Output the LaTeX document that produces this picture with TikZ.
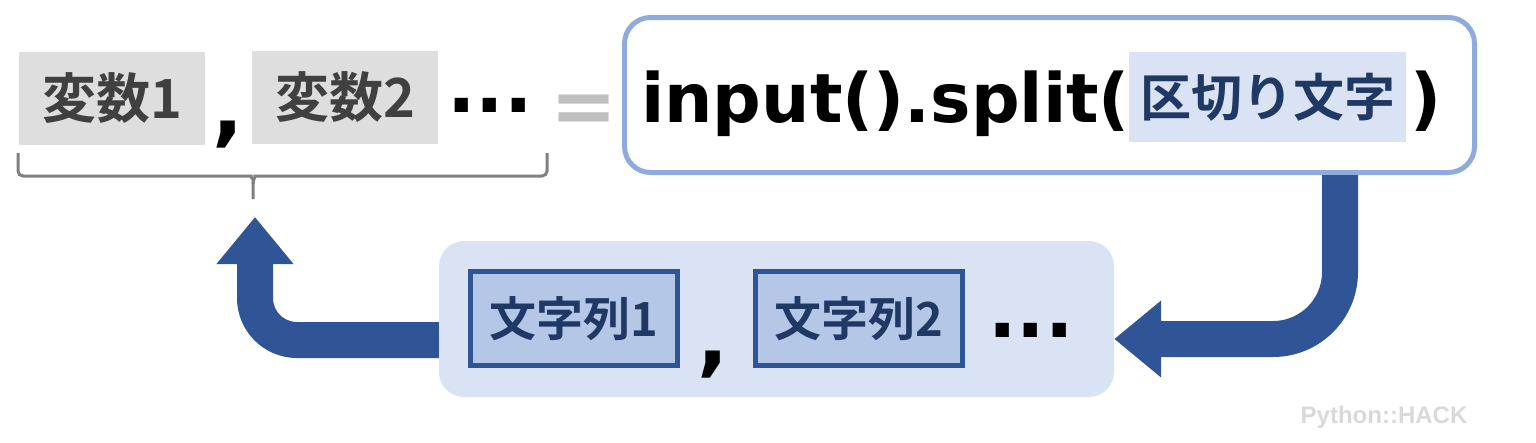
\documentclass[tikz,border=0pt]{standalone}
\usepackage{fontspec}
\usepackage{tikz}
\usetikzlibrary{calc,positioning,arrows.meta}
\newfontfamily\jp{Noto Sans CJK JP}[BoldFont={Noto Sans CJK JP Bold}]
\newfontfamily\lat{DejaVu Sans}[BoldFont={DejaVu Sans Bold}]
\newfontfamily\wmfont{Liberation Sans}[BoldFont={Liberation Sans Bold}]
\definecolor{varfill}{HTML}{DEDEDE}
\definecolor{vartext}{HTML}{404040}
\definecolor{bracecol}{HTML}{7F7F7F}
\definecolor{eqcol}{HTML}{BFBFBF}
\definecolor{splitline}{HTML}{8FAADC}
\definecolor{paleblue}{HTML}{DAE3F3}
\definecolor{navy}{HTML}{203864}
\definecolor{arrowblue}{HTML}{2F5597}
\definecolor{strfill}{HTML}{B4C7E7}
\definecolor{wmcol}{HTML}{D9D9D9}

\begin{document}
\begin{tikzpicture}[x=1pt,y=-1pt,
  varbox/.style={fill=varfill,text=vartext,minimum width=186pt,minimum height=93pt,inner sep=0pt,
    font=\jp\bfseries\fontsize{54}{54}\selectfont},
  bigtext/.style={inner sep=0pt,anchor=base,font=\lat\bfseries\fontsize{75}{75}\selectfont},
  strbox/.style={draw=arrowblue,line width=5pt,fill=strfill,text=navy,minimum width=207pt,minimum height=94pt,
    inner sep=0pt,font=\jp\bfseries\fontsize{47}{47}\selectfont},
  bigarrow/.style={draw=arrowblue,line width=36pt,-{Triangle[length=47pt,width=74pt]}},
  bracket/.style={draw=bracecol,line width=3pt,rounded corners=5pt}]
\useasboundingbox (0,0) rectangle (1536,442);
% left hand side
\node[varbox] (var1) at (112,98.5) {変数1};
\node[varbox] (var2) at (345,97.5) {変数2};
\node[bigtext,font=\lat\bfseries\fontsize{82}{82}\selectfont] (comma1) at (228,136) {,};
\node[bigtext] (dots1) at (490,112) {...};
\node[bigtext,text=eqcol,font=\lat\bfseries\fontsize{80}{80}\selectfont] (eq) at (584,133) {=};
\coordinate (bracetip) at (253,199);
\draw[bracket] (18,153) |- (246,176) to[out=0,in=90] (253,184) -- (bracetip);
\draw[bracket] (547,153) |- (260,176) to[out=180,in=90] (253,184);
% right hand side
\node[draw=splitline,line width=5pt,rounded corners=26pt,fill=white,minimum width=850pt,minimum height=155pt] (splitbox) at (1049.5,95) {};
\node[inner sep=0pt,anchor=base west,font=\lat\bfseries\fontsize{68}{68}\selectfont] (call) at (641,122) {input().split(};
\node[fill=paleblue,text=navy,minimum width=277pt,minimum height=90pt,inner sep=0pt,
  font=\jp\bfseries\fontsize{51}{51}\selectfont] (sep) at (1267.5,97) {区切り文字};
\node[inner sep=0pt,anchor=base,font=\lat\bfseries\fontsize{68}{68}\selectfont] (close) at (1426,122) {)};
% result
\node[fill=paleblue,rounded corners=25pt,minimum width=675pt,minimum height=156pt] (strs) at (776.5,319) {};
\node[strbox] (str1) at (574,318.5) {文字列1};
\node[strbox] (str2) at (858.5,318.5) {文字列2};
\node[bigtext,font=\lat\bfseries\fontsize{82}{82}\selectfont] (comma2) at (713,366) {,};
\node[bigtext] (dots2) at (1031,337) {...};
\draw[bigarrow,rounded corners=67pt] ($(splitbox.south east)+(-137,0)$) |- ($(strs.east)+(0,20)$);
\draw[bigarrow,rounded corners=42pt] ($(strs.west)+(0,21)$) -| ($(bracetip)+(2,18)$);
\node[text=wmcol,font=\wmfont\bfseries\fontsize{24}{24}\selectfont] (wm) at (1384,417) {Python::HACK};
\end{tikzpicture}
\end{document}
